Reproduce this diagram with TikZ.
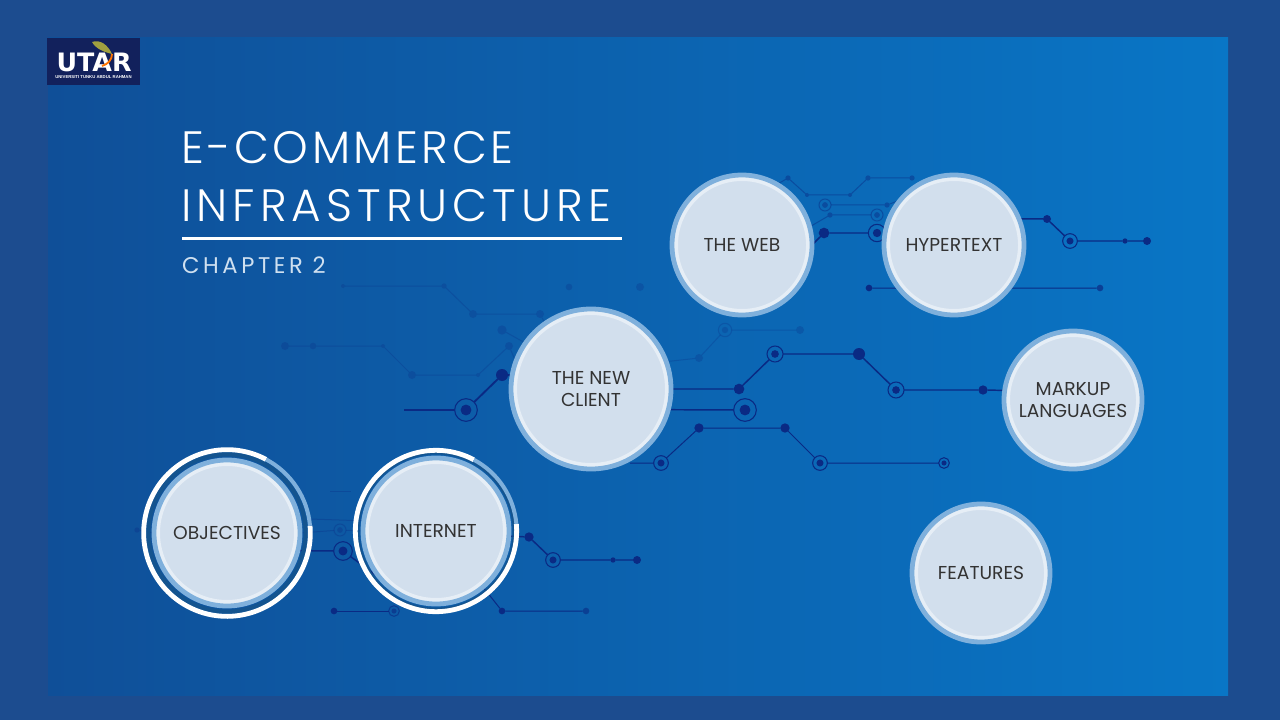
\documentclass[tikz,border=0pt]{standalone}
\usepackage{fontspec}
\setmainfont{Poppins}
\newfontfamily\logofont{DejaVu Sans}
\newfontfamily\logosub{Liberation Sans}
\newfontfamily\titlefonta[LetterSpace=7.8]{Poppins Light}
\newfontfamily\titlefontb[LetterSpace=11.2]{Poppins Light}
\newfontfamily\subfont[LetterSpace=16]{Poppins}
\pgfdeclarelayer{back}
\pgfsetlayers{back,main}
\definecolor{frame}{HTML}{1C4C8F}
\definecolor{bgl}{HTML}{0F4F98}
\definecolor{bgr}{HTML}{0976C6}
\definecolor{navy}{HTML}{0A2A84}
\definecolor{disc}{HTML}{D2DFED}
\definecolor{band}{HTML}{E6EEF6}
\definecolor{ringb}{HTML}{7FB0DC}
\definecolor{darkring}{HTML}{14548F}
\definecolor{logobg}{HTML}{12215C}
\definecolor{sub}{HTML}{CFE0F0}
\definecolor{olive}{HTML}{A0A040}
\tikzset{
  x=0.75pt,y=-0.75pt,
  bubble/.style={circle,inner sep=0pt,outer sep=0pt,minimum size={1.5*#1*1pt},fill=disc,draw=ringb,line width=3.6pt,
    align=center,text=black!80,font=\fontsize{14pt}{17pt}\selectfont,
    path picture={\draw[band,line width=3pt] (path picture bounding box.center) circle ({0.75*(#1-4)*1pt});}},
  lab/.style={inner sep=0pt,outer sep=0pt,anchor=west,text=white},
  sdot/.style={circle,fill=navy,inner sep=0pt,outer sep=0pt,minimum size=#1},
  sdot/.default=7pt,
  rng/.style={circle,draw=navy,line width=.8pt,inner sep=0pt,outer sep=0pt,minimum size=#1,
    path picture={\fill[navy] (path picture bounding box.center) circle ({0.24*#1});}},
  rng/.default=12pt,
  ln/.style={draw=navy,line width=1.1pt},
  ln2/.style={draw=navy,line width=.75pt},
  faint/.style={opacity=.25},
}
\begin{document}
\begin{tikzpicture}
\useasboundingbox (0,0) rectangle (1280,720);
% bubbles
\node[bubble=80] (client) at (591,389) {THE NEW\\CLIENT};
\node[bubble=70] (web) at (742,245) {THE WEB};
\node[bubble=70] (hyper) at (954,245) {HYPERTEXT};
\node[bubble=69] (markup) at (1073,400) {MARKUP\\LANGUAGES};
\node[bubble=69] (features) at (981,573) {FEATURES};
\node[bubble=73] (obj) at (227,533) {OBJECTIVES};
\node[bubble=73] (inet) at (436,531) {INTERNET};
% rings round the two first bubbles
\draw[darkring,line width=3pt] (obj.center) circle (59pt);
\draw[darkring,line width=3pt] (inet.center) circle (59pt);
\draw[white,line width=3.6pt] (obj.center) ++(62:62.5pt) arc[start angle=62,end angle=365,radius=62.5pt];
\draw[ringb,line width=3pt] (obj.center) ++(5:62.5pt) arc[start angle=5,end angle=62,radius=62.5pt];
\draw[white,line width=3.6pt] (inet.center) ++(62:60.5pt) arc[start angle=62,end angle=365,radius=60.5pt];
\draw[ringb,line width=3pt] (inet.center) ++(5:60.5pt) arc[start angle=5,end angle=62,radius=60.5pt];
% title
\node[lab,font=\titlefonta\fontsize{34pt}{36pt}\selectfont] (t1) at (181,148) {E-COMMERCE};
\node[lab,font=\titlefontb\fontsize{34pt}{36pt}\selectfont] (t2) at (181,206) {INFRASTRUCTURE};
\node[lab,text=sub,font=\subfont\fontsize{17pt}{20pt}\selectfont] (t3) at (182,265) {CHAPTER 2};
\fill[white] (182,237) rectangle (622,240);
% logo
\fill[logobg] (47,38) rectangle (140,85);
\fill[olive] (92,42) .. controls (100,39) and (108,45) .. (112,54) .. controls (104,52) and (96,49) .. (92,42);
\node[inner sep=0pt,text=white,font=\logofont\bfseries\fontsize{19pt}{20pt}\selectfont] (utar) at (94,62) {UTAR};
\draw[orange!90!red,line width=1.4pt] (112,54) .. controls (112,60) and (108,64) .. (102,66);
\node[inner sep=0pt,text=white,font=\logosub\bfseries\fontsize{3.2pt}{4pt}\selectfont] (utarsub) at (93.5,77) {UNIVERSITI TUNKU ABDUL RAHMAN};
\begin{pgfonlayer}{back}
\fill[frame] (0,0) rectangle (1280,720);
\shade[left color=bgl,right color=bgr] (48,38) rectangle (1228,695);
% strong traces: client
\coordinate (a0) at (404,410);
\node[rng=17pt] (a1) at (466,410) {};
\node[sdot=9pt] (a2) at (502,375) {};
\draw[ln,line width=1.4pt] (a0) -- (a1) -- (a2) -- (client.170);
\node[sdot=8pt] (b1) at (739,389) {};
\node[rng=12pt] (b2) at (775,354) {};
\node[sdot=9pt] (b3) at (859,354) {};
\node[rng=12pt] (b4) at (896,390) {};
\node[sdot=7pt] (b5) at (983,390) {};
\draw[ln] (client.east) -- (b1) -- (b2) -- (b3) -- (b4) -- (b5) -- (markup.172);
\node[rng=17pt] (c1) at (745,410) {};
\draw[ln] (client.-15) -- (c1);
\coordinate (d0) at (630,463);
\node[rng=11pt] (d1) at (661,463) {};
\node[sdot=7pt] (d2) at (699,428) {};
\node[sdot=7pt] (d3) at (785,428) {};
\node[rng=11pt] (d4) at (820,463) {};
\node[rng=8pt] (d5) at (944,463) {};
\draw[ln2] (d0) -- (d1) -- (d2) -- (d3) -- (d4) -- (d5);
% web / hypertext
\node[sdot=8pt] (e1) at (824,233) {};
\node[rng=13pt] (e2) at (877,233) {};
\draw[ln] (web.east) -- (e1) -- (e2) -- (hyper.170);
\node[sdot=6pt] (f1) at (1047,219) {};
\node[rng=11pt] (f2) at (1070,241) {};
\node[sdot=4pt] (f3) at (1125,241) {};
\node[sdot=6pt] (f4) at (1147,241) {};
\draw[ln] (hyper.22) -- (f1) -- (f2) -- (f3) -- (f4);
\node[sdot=5pt] (g1) at (869,288) {};
\draw[ln2] (g1) -- (hyper.218);
\node[sdot=5pt,opacity=.7] (g2) at (1100,288) {};
\draw[ln2] (hyper.-38) -- (g2);
% objectives / internet
\node[rng=14pt] (h1) at (343,551) {};
\draw[ln] (obj.-14) -- (h1) -- (inet.221);
\node[sdot=7pt] (i1) at (529,537) {};
\node[rng=11pt] (i2) at (553,560) {};
\node[sdot=4pt] (i3) at (613,560) {};
\node[sdot=6pt] (i4) at (637,560) {};
\draw[ln] (inet.-4) -- (i1) -- (i2) -- (i3) -- (i4);
\node[sdot=5pt] (j1) at (334,611) {};
\node[rng=8pt,opacity=.6] (j2) at (394,611) {};
\draw[ln2] (j1) -- (j2);
\node[sdot=5pt] (j3) at (502,611) {};
\node[sdot=5pt,opacity=.6] (j4) at (586,611) {};
\draw[ln2] (inet.-50) -- (j3) -- (j4);
% faint traces
\begin{scope}[faint]
\node[sdot=6pt] (k1) at (285,346) {};
\node[sdot=5pt] (k2) at (313,346) {};
\node[sdot=3pt] (k3) at (383,346) {};
\node[sdot=6pt] (k4) at (412,375) {};
\node[sdot=3pt] (k5) at (478,375) {};
\node[sdot=6pt] (k6) at (509,346) {};
\draw[ln2] (k1) -- (k2) -- (k3) -- (k4) -- (k5) -- (k6) -- (client.160);
\node[sdot=3pt] (l1) at (343,286) {};
\node[sdot=4pt] (l2) at (444,286) {};
\node[sdot=6pt] (l3) at (473,314) {};
\node[sdot=6pt] (l4) at (540,314) {};
\draw[ln2] (l1) -- (l2) -- (l3) -- (l4) -- (client.125);
\node[sdot=7pt] (l5) at (502,330) {};
\draw[ln2] (l5) -- (client.145);
\node[sdot=5pt] (m1) at (569,287) {};
\node[sdot=6pt] (m2) at (640,287) {};
\node[sdot=6pt] (n1) at (699,358) {};
\node[rng=10pt] (n2) at (725,330) {};
\node[sdot=6pt] (n3) at (800,330) {};
\draw[ln2] (client.20) -- (n1) -- (n2) -- (n3);
\end{scope}
\begin{scope}[opacity=.45]
\node[sdot=4pt] (o1) at (788,178) {};
\node[sdot=3pt] (o2) at (807,195) {};
\node[sdot=3pt] (o3) at (850,195) {};
\node[sdot=4pt] (o4) at (868,178) {};
\node[sdot=4pt] (o5) at (912,178) {};
\draw[ln2] (web.60) -- (o1) -- (o2) -- (o3) -- (o4) -- (o5);
\node[rng=9pt] (p1) at (825,205) {};
\node[sdot=4pt] (p2) at (887,205) {};
\draw[ln2] (p1) -- (p2) -- (hyper.140);
\node[sdot=4pt] (q1) at (830,215) {};
\node[rng=9pt] (q2) at (877,215) {};
\draw[ln2] (web.15) -- (q1) -- (q2);
\end{scope}
\begin{scope}[opacity=.3]
\node[sdot=4pt] (r0) at (137,530) {};
\draw[ln2] (r0) -- (obj.west);
\node[rng=9pt] (r1) at (340,530) {};
\draw[ln2] (obj.east) -- (r1) -- (inet.west);
\coordinate (r2) at (310,519);
\draw[ln2] (r2) -- (inet.172);
\coordinate (r3) at (330,491);
\coordinate (r4) at (351,491);
\draw[ln2] (r3) -- (r4);
\end{scope}
\end{pgfonlayer}
\end{tikzpicture}
\end{document}
